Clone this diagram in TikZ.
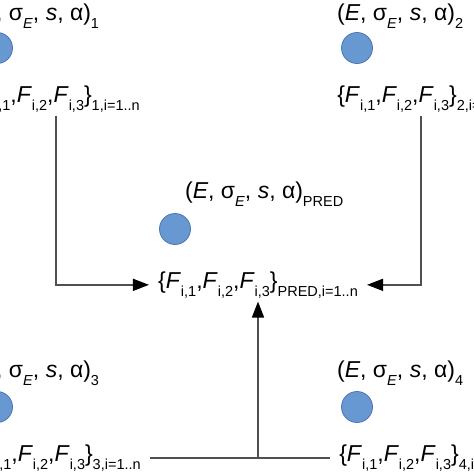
\documentclass[tikz,border=0pt]{standalone}
\usepackage{fontspec}
\setmainfont{Liberation Sans}
\usepackage{tikz}
\usetikzlibrary{arrows.meta,positioning}
\usepackage{xcolor}
\definecolor{ptblue}{RGB}{104,152,210}
\definecolor{ptedge}{RGB}{74,118,176}
\definecolor{lngray}{RGB}{80,80,80}
\newcommand{\sbs}[1]{\raisebox{-8.5pt}{\fontsize{14.5}{14.5}\selectfont #1}}
\newcommand{\params}[1]{(\textit{E}, σ\sbs{\textit{E}}, \textit{s}, α)\sbs{#1}}
\newcommand{\forces}[1]{\{\textit{F}\sbs{i,1},\textit{F}\sbs{i,2},\textit{F}\sbs{i,3}\}\sbs{#1}}
\tikzstyle{arrow} = [line width=1.5pt,-{Triangle[length=16pt,width=12pt,color=black]},draw=lngray]
\tikzstyle{link} = [line width=1.5pt,draw=lngray]
\tikzstyle{dot} = [circle, minimum size=31pt, inner sep=0pt, fill=ptblue, draw=ptedge, line width=0.8pt]
\tikzstyle{label} = [anchor=base west, inner sep=0pt, font=\fontsize{23}{23}\selectfont]
\tikzstyle{fset} = [anchor=base, inner xsep=9pt, inner ysep=3pt, font=\fontsize{23}{23}\selectfont]

\begin{document}
\begin{tikzpicture}[x=1pt,y=-1pt]
\useasboundingbox (0,0) rectangle (474,474);
% Four known points
\node[label] (lab1) at (-27,20) {\params{1}};
\node[dot] (c1) at (-3,48) {};
\node[fset] (f1) at (56,102) {\forces{1,i=1..n}};

\node[label] (lab2) at (337,20) {\params{2}};
\node[dot] (c2) at (357,48) {};
\node[fset] (f2) at (421,102) {\forces{2,i=1..n}};

\node[label] (lab3) at (-27,377) {\params{3}};
\node[dot] (c3) at (-3,407) {};
\node[fset] (f3) at (57,461) {\forces{3,i=1..n}};

\node[label] (lab4) at (337,377) {\params{4}};
\node[dot] (c4) at (357,407) {};
\node[fset] (f4) at (423,461) {\forces{4,i=1..n}};

% Predicted point
\node[label] (labpred) at (185,198) {\params{PRED}};
\node[dot] (cpred) at (175,229) {};
\node[fset] (fpred) at (258,288) {\forces{PRED,i=1..n}};

% Connections
\draw[arrow] (f1.south) |- (fpred.west);
\draw[arrow] (f2.south) |- (fpred.east);
\draw[link] (f3.east) -- (f4.west);
\coordinate (join) at (fpred.south |- f3.east);
\draw[arrow] (join) -- (fpred.south);
\end{tikzpicture}
\end{document}
